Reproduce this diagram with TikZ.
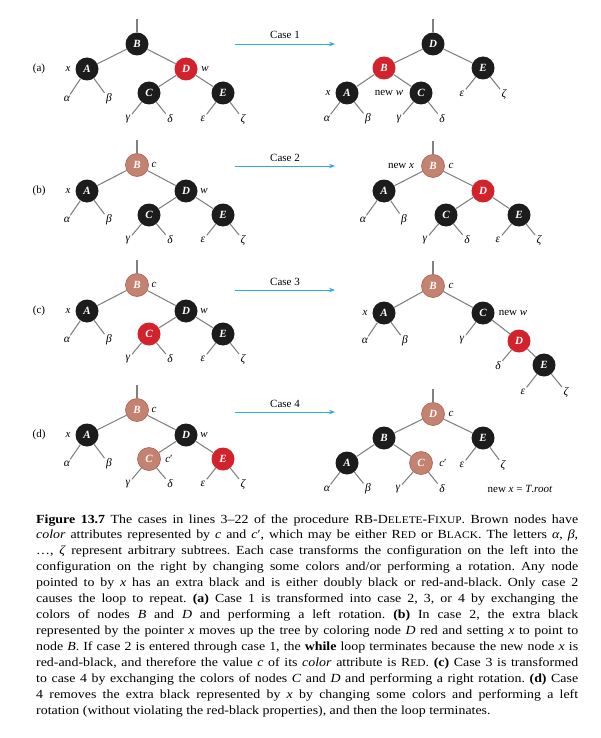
\documentclass[tikz,border=0pt]{standalone}
\usepackage{fontspec}
\setmainfont{Liberation Serif}
\newfontfamily\capfont{Liberation Serif}[FakeStretch=1.12]
\usetikzlibrary{arrows.meta}
\definecolor{nblack}{RGB}{28,28,28}
\definecolor{nred}{RGB}{210,35,45}
\definecolor{nbrown}{RGB}{196,130,112}
\definecolor{nbrownd}{RGB}{172,98,82}
\definecolor{egray}{RGB}{128,128,128}
\definecolor{arrblue}{RGB}{45,170,225}
\newcommand\capln[1]{\hbox to 542pt{#1}}
\newcommand\smc[1]{{\fontsize{10.2}{12}\selectfont #1}}
\newcommand\gkl[5]{\node[gk] (#1) at (#2,#3) {#4}; \draw[stub] (#5) -- (#1);}
\tikzset{
  nd/.style={circle, minimum size=23pt, inner sep=0pt, text=white,
    font=\fontsize{11}{12}\selectfont\bfseries\itshape},
  bk/.style={nd, fill=nblack},
  rd/.style={nd, fill=nred},
  bn/.style={nd, fill=nbrown, draw=nbrownd, line width=0.6pt},
  ln/.style={draw=egray, line width=1.05pt},
  stub/.style={ln, shorten >=1.5pt},
  gk/.style={inner sep=0.5pt, font=\fontsize{11.5}{12}\selectfont\itshape},
  lb/.style={inner sep=0pt, font=\fontsize{11}{12}\selectfont},
  cs/.style={draw=arrblue, line width=0.9pt, -{Stealth[length=6pt,width=4.5pt]}},
  cl/.style={midway, anchor=base, yshift=5pt, inner sep=0pt, font=\fontsize{11}{12}\selectfont, text=black},
}
\begin{document}
\begin{tikzpicture}[x=1pt,y=-1pt]
\fill[white] (0,0) rectangle (600,738);
\useasboundingbox (0,0) rectangle (600,738);

% ---------- (a) left
\coordinate (aLt) at (137,19);
\node[bk] (aLB) at (137,44) {B};
\node[bk] (aLA) at (87,69) {A};
\node[rd] (aLD) at (186,69) {D};
\node[bk] (aLC) at (149,93) {C};
\node[bk] (aLE) at (223,93) {E};
\draw[ln] (aLt) -- (aLB);
\draw[ln] (aLB) -- (aLA);
\draw[ln] (aLB) -- (aLD);
\draw[ln] (aLD) -- (aLC);
\draw[ln] (aLD) -- (aLE);
\gkl{aLal}{67}{99}{α}{aLA}
\gkl{aLbe}{109}{99}{β}{aLA}
\gkl{aLga}{128}{119}{γ}{aLC}
\gkl{aLde}{170}{119}{δ}{aLC}
\gkl{aLep}{203}{119}{ε}{aLE}
\gkl{aLze}{243}{119}{ζ}{aLE}
\node[lb] (aLlab) at (39,69) {(a)};
\node[lb] (aLx) at (68,69) {\textit{x}};
\node[lb] (aLw) at (205,69) {\textit{w}};

% ---------- (a) right
\coordinate (aRt) at (433,19);
\node[bk] (aRD) at (433,44) {D};
\node[rd] (aRB) at (384,68) {B};
\node[bk] (aRE) at (483,68) {E};
\node[bk] (aRA) at (347,93) {A};
\node[bk] (aRC) at (421,93) {C};
\draw[ln] (aRt) -- (aRD);
\draw[ln] (aRD) -- (aRB);
\draw[ln] (aRD) -- (aRE);
\draw[ln] (aRB) -- (aRA);
\draw[ln] (aRB) -- (aRC);
\gkl{aRep}{462}{94}{ε}{aRE}
\gkl{aRze}{504}{94}{ζ}{aRE}
\gkl{aRal}{327}{119}{α}{aRA}
\gkl{aRbe}{368}{119}{β}{aRA}
\gkl{aRga}{399}{119}{γ}{aRC}
\gkl{aRde}{442}{119}{δ}{aRC}
\node[lb] (aRx) at (328,93) {\textit{x}};
\node[lb] (aRw) at (389,93) {new \textit{w}};

\coordinate (c1s) at (235,44); \coordinate (c1e) at (335,44);
\draw[cs] (c1s) -- node[cl] (c1l) {Case 1} (c1e);

% ---------- (b) left
\coordinate (bLt) at (137,140);
\node[bn] (bLB) at (137,165) {B};
\node[bk] (bLA) at (87,191) {A};
\node[bk] (bLD) at (186,191) {D};
\node[bk] (bLC) at (149,215) {C};
\node[bk] (bLE) at (223,215) {E};
\draw[ln] (bLt) -- (bLB);
\draw[ln] (bLB) -- (bLA);
\draw[ln] (bLB) -- (bLD);
\draw[ln] (bLD) -- (bLC);
\draw[ln] (bLD) -- (bLE);
\gkl{bLal}{67}{220}{α}{bLA}
\gkl{bLbe}{109}{220}{β}{bLA}
\gkl{bLga}{128}{240}{γ}{bLC}
\gkl{bLde}{170}{240}{δ}{bLC}
\gkl{bLep}{203}{240}{ε}{bLE}
\gkl{bLze}{243}{240}{ζ}{bLE}
\node[lb] (bLlab) at (39,191) {(b)};
\node[lb] (bLx) at (68,191) {\textit{x}};
\node[lb] (bLw) at (204,191) {\textit{w}};
\node[lb] (bLc) at (154,165) {\textit{c}};

% ---------- (b) right
\coordinate (bRt) at (433,141);
\node[bn] (bRB) at (433,166) {B};
\node[bk] (bRA) at (384,191) {A};
\node[rd] (bRD) at (483,191) {D};
\node[bk] (bRC) at (446,215) {C};
\node[bk] (bRE) at (519,215) {E};
\draw[ln] (bRt) -- (bRB);
\draw[ln] (bRB) -- (bRA);
\draw[ln] (bRB) -- (bRD);
\draw[ln] (bRD) -- (bRC);
\draw[ln] (bRD) -- (bRE);
\gkl{bRal}{363}{220}{α}{bRA}
\gkl{bRbe}{404}{220}{β}{bRA}
\gkl{bRga}{425}{240}{γ}{bRC}
\gkl{bRde}{467}{240}{δ}{bRC}
\gkl{bRep}{498}{240}{ε}{bRE}
\gkl{bRze}{539}{240}{ζ}{bRE}
\node[lb] (bRx) at (401,166) {new \textit{x}};
\node[lb] (bRc) at (451,166) {\textit{c}};

\coordinate (c2s) at (235,166); \coordinate (c2e) at (335,166);
\draw[cs] (c2s) -- node[cl] (c2l) {Case 2} (c2e);

% ---------- (c) left
\coordinate (cLt) at (137,260);
\node[bn] (cLB) at (137,285) {B};
\node[bk] (cLA) at (87,311) {A};
\node[bk] (cLD) at (186,311) {D};
\node[rd] (cLC) at (149,334) {C};
\node[bk] (cLE) at (223,334) {E};
\draw[ln] (cLt) -- (cLB);
\draw[ln] (cLB) -- (cLA);
\draw[ln] (cLB) -- (cLD);
\draw[ln] (cLD) -- (cLC);
\draw[ln] (cLD) -- (cLE);
\gkl{cLal}{67}{340}{α}{cLA}
\gkl{cLbe}{109}{340}{β}{cLA}
\gkl{cLga}{128}{359}{γ}{cLC}
\gkl{cLde}{170}{359}{δ}{cLC}
\gkl{cLep}{203}{359}{ε}{cLE}
\gkl{cLze}{243}{359}{ζ}{cLE}
\node[lb] (cLlab) at (39,311) {(c)};
\node[lb] (cLx) at (68,311) {\textit{x}};
\node[lb] (cLw) at (204,311) {\textit{w}};
\node[lb] (cLc) at (154,285) {\textit{c}};

% ---------- (c) right
\coordinate (cRt) at (433,261);
\node[bn] (cRB) at (433,286) {B};
\node[bk] (cRA) at (384,313) {A};
\node[bk] (cRC) at (483,313) {C};
\node[rd] (cRD) at (519,341) {D};
\node[bk] (cRE) at (544,365) {E};
\draw[ln] (cRt) -- (cRB);
\draw[ln] (cRB) -- (cRA);
\draw[ln] (cRB) -- (cRC);
\draw[ln] (cRC) -- (cRD);
\draw[ln] (cRD) -- (cRE);
\gkl{cRal}{365}{341}{α}{cRA}
\gkl{cRbe}{405}{341}{β}{cRA}
\gkl{cRga}{462}{340}{γ}{cRC}
\gkl{cRde}{498}{366}{δ}{cRD}
\gkl{cRep}{523}{392}{ε}{cRE}
\gkl{cRze}{566}{392}{ζ}{cRE}
\node[lb] (cRx) at (365,313) {\textit{x}};
\node[lb] (cRc) at (451,286) {\textit{c}};
\node[lb] (cRw) at (513,313) {new \textit{w}};

\coordinate (c3s) at (235,290); \coordinate (c3e) at (335,290);
\draw[cs] (c3s) -- node[cl] (c3l) {Case 3} (c3e);

% ---------- (d) left
\coordinate (dLt) at (137,385);
\node[bn] (dLB) at (137,410) {B};
\node[bk] (dLA) at (87,435) {A};
\node[bk] (dLD) at (186,435) {D};
\node[bn] (dLC) at (149,459) {C};
\node[rd] (dLE) at (223,459) {E};
\draw[ln] (dLt) -- (dLB);
\draw[ln] (dLB) -- (dLA);
\draw[ln] (dLB) -- (dLD);
\draw[ln] (dLD) -- (dLC);
\draw[ln] (dLD) -- (dLE);
\gkl{dLal}{67}{464}{α}{dLA}
\gkl{dLbe}{109}{464}{β}{dLA}
\gkl{dLga}{128}{484}{γ}{dLC}
\gkl{dLde}{170}{484}{δ}{dLC}
\gkl{dLep}{203}{484}{ε}{dLE}
\gkl{dLze}{243}{484}{ζ}{dLE}
\node[lb] (dLlab) at (39,435) {(d)};
\node[lb] (dLx) at (68,435) {\textit{x}};
\node[lb] (dLw) at (204,435) {\textit{w}};
\node[lb] (dLc) at (154,410) {\textit{c}};
\node[lb] (dLcp) at (169,459) {\textit{c}′};

% ---------- (d) right
\coordinate (dRt) at (433,389);
\node[bn] (dRD) at (433,414) {D};
\node[bk] (dRB) at (384,438) {B};
\node[bk] (dRE) at (483,438) {E};
\node[bk] (dRA) at (347,463) {A};
\node[bn] (dRC) at (421,463) {C};
\draw[ln] (dRt) -- (dRD);
\draw[ln] (dRD) -- (dRB);
\draw[ln] (dRD) -- (dRE);
\draw[ln] (dRB) -- (dRA);
\draw[ln] (dRB) -- (dRC);
\gkl{dRep}{462}{465}{ε}{dRE}
\gkl{dRze}{503}{465}{ζ}{dRE}
\gkl{dRal}{327}{489}{α}{dRA}
\gkl{dRbe}{368}{489}{β}{dRA}
\gkl{dRga}{398}{489}{γ}{dRC}
\gkl{dRde}{442}{489}{δ}{dRC}
\node[lb] (dRc) at (451,414) {\textit{c}};
\node[lb] (dRcp) at (443,463) {\textit{c}′};
\node[lb] (dRroot) at (520,489) {new \textit{x} = \textit{T}.\textit{root}};

\coordinate (c4s) at (235,412); \coordinate (c4e) at (335,412);
\draw[cs] (c4s) -- node[cl] (c4l) {Case 4} (c4e);

% ---------- caption
\node[anchor=base west, inner sep=0pt] (cap) at (36,523) {\parbox[t]{542pt}{\capfont\frenchspacing\fontsize{12.4}{15.92}\selectfont
\capln{\textbf{Figure 13.7} The cases in lines 3–22 of the procedure RB-D\smc{ELETE}-F\smc{IXUP}. Brown nodes have}
\capln{\textit{color} attributes represented by \textit{c} and \textit{c}′, which may be either R\smc{ED} or B\smc{LACK}. The letters \textit{α}, \textit{β},}
\capln{\ldots, \textit{ζ} represent arbitrary subtrees. Each case transforms the configuration on the left into the}
\capln{configuration on the right by changing some colors and/or performing a rotation. Any node}
\capln{pointed to by \textit{x} has an extra black and is either doubly black or red-and-black. Only case 2}
\capln{causes the loop to repeat. \textbf{(a)} Case 1 is transformed into case 2, 3, or 4 by exchanging the}
\capln{colors of nodes \textit{B} and \textit{D} and performing a left rotation. \textbf{(b)} In case 2, the extra black}
\capln{represented by the pointer \textit{x} moves up the tree by coloring node \textit{D} red and setting \textit{x} to point to}
\capln{node \textit{B}. If case 2 is entered through case 1, the \textbf{while} loop terminates because the new node \textit{x} is}
\capln{red-and-black, and therefore the value \textit{c} of its \textit{color} attribute is R\smc{ED}. \textbf{(c)} Case 3 is transformed}
\capln{to case 4 by exchanging the colors of nodes \textit{C} and \textit{D} and performing a right rotation. \textbf{(d)} Case}
\capln{4 removes the extra black represented by \textit{x} by changing some colors and performing a left}
\hbox to 542pt{rotation (without violating the red-black properties), and then the loop terminates.\hfil}}};
\end{tikzpicture}
\end{document}
